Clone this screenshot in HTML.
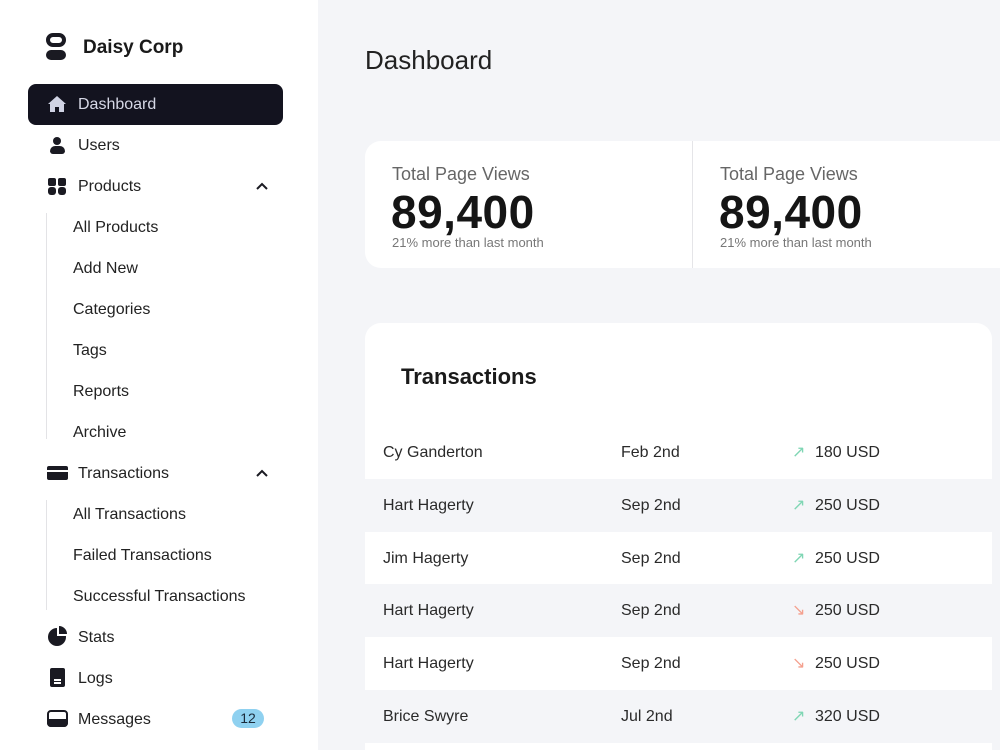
<!DOCTYPE html>
<html><head><meta charset="utf-8"><style>
*{margin:0;padding:0;box-sizing:border-box}
html{width:1000px;height:750px;overflow:hidden}
body{width:1000px;height:750px;overflow:hidden;background:#f4f5f8;font-family:"Liberation Sans",sans-serif;color:#1f2230;position:relative}
.side{position:absolute;left:0;top:0;width:318px;height:750px;background:#fff}
.a{position:absolute;white-space:nowrap}
.it{font-size:16px;color:#222;margin-top:1px}
.ic{position:absolute;background:#1a1a22}
.sub{position:absolute;left:46px;width:1px;background:#e3e3e6}
.row{position:absolute;left:365px;width:635px;height:53px}
.nm,.dt,.am{position:absolute;top:18px;font-size:16px;color:#2a2a2a}
.nm{left:18px}.dt{left:256px}.am{left:450px}
.ar{position:absolute;left:427px;top:16px;font-size:16px}
</style></head><body>
<div class="side">
 <div class="ic" style="left:46px;top:33px;width:20px;height:14px;border-radius:7px;background:#fff;border:4px solid #1a1a22"></div>
 <div class="ic" style="left:46px;top:50px;width:20px;height:10px;border-radius:5px"></div>
 <div class="a" style="left:83px;top:37px;font-size:19px;font-weight:bold;color:#1a1a1a">Daisy Corp</div>
 <div class="a" style="left:28px;top:84px;width:255px;height:41px;background:#13131f;border-radius:8px"></div>
 <svg class="a" style="left:47px;top:95px" width="20" height="18" viewBox="0 0 20 18"><path d="M10 1 L19 9 L17 9 L17 17 L12 17 L12 12 L8 12 L8 17 L3 17 L3 9 L1 9 Z" fill="#d0d3e4"/></svg>
 <div class="a it" style="left:78px;top:95px;color:#d6d8e6">Dashboard</div>
 <div class="ic" style="left:53px;top:137px;width:8px;height:8px;border-radius:50%"></div>
 <div class="ic" style="left:50px;top:146px;width:15px;height:8px;border-radius:7px 7px 4px 4px"></div>
 <div class="a it" style="left:78px;top:136px">Users</div>
 <div class="ic" style="left:48px;top:178px;width:8px;height:8px;border-radius:2px"></div>
 <div class="ic" style="left:58px;top:178px;width:8px;height:8px;border-radius:2px"></div>
 <div class="ic" style="left:48px;top:187px;width:8px;height:8px;border-radius:3px"></div>
 <div class="ic" style="left:58px;top:187px;width:8px;height:8px;border-radius:3px"></div>
 <div class="a it" style="left:78px;top:177px">Products</div>
 <svg class="a" style="left:255px;top:181px" width="14" height="10"><path d="M2 8 L7 3 L12 8" stroke="#1a1a22" stroke-width="2" fill="none"/></svg>
 <div class="sub" style="top:213px;height:226px"></div>
 <div class="a it" style="left:73px;top:218px">All Products</div>
 <div class="a it" style="left:73px;top:259px">Add New</div>
 <div class="a it" style="left:73px;top:300px">Categories</div>
 <div class="a it" style="left:73px;top:341px">Tags</div>
 <div class="a it" style="left:73px;top:382px">Reports</div>
 <div class="a it" style="left:73px;top:423px">Archive</div>
 <div class="ic" style="left:47px;top:466px;width:21px;height:14px;border-radius:2px"></div>
 <div class="a" style="left:47px;top:470px;width:21px;height:2px;background:#fff"></div>
 <div class="a it" style="left:78px;top:464px">Transactions</div>
 <svg class="a" style="left:255px;top:468px" width="14" height="10"><path d="M2 8 L7 3 L12 8" stroke="#1a1a22" stroke-width="2" fill="none"/></svg>
 <div class="sub" style="top:500px;height:110px"></div>
 <div class="a it" style="left:73px;top:505px">All Transactions</div>
 <div class="a it" style="left:73px;top:546px">Failed Transactions</div>
 <div class="a it" style="left:73px;top:587px">Successful Transactions</div>
 <div class="ic" style="left:48px;top:628px;width:18px;height:18px;border-radius:50%"></div>
 <div class="a" style="left:57px;top:626px;width:10px;height:10px;background:#fff"></div>
 <div class="ic" style="left:59px;top:626px;width:8px;height:8px;border-radius:0 8px 0 0"></div>
 <div class="a it" style="left:78px;top:628px">Stats</div>
 <div class="ic" style="left:50px;top:668px;width:15px;height:19px;border-radius:2px"></div>
 <div class="a" style="left:54px;top:679px;width:7px;height:1.5px;background:#fff"></div>
 <div class="a" style="left:54px;top:682px;width:7px;height:1.5px;background:#fff"></div>
 <div class="a it" style="left:78px;top:669px">Logs</div>
 <div class="a" style="left:47px;top:710px;width:21px;height:17px;border:2.5px solid #1a1a22;border-radius:4px"></div>
 <div class="ic" style="left:47px;top:719px;width:21px;height:8px;border-radius:0 0 4px 4px"></div>
 <div class="a it" style="left:78px;top:710px">Messages</div>
 <div class="a" style="left:232px;top:709px;width:32px;height:19px;background:#8fd1f0;border-radius:10px;font-size:14px;text-align:center;line-height:19px;color:#1a2a3a">12</div>
</div>
<div class="a" style="left:365px;top:45px;font-size:26px;color:#222">Dashboard</div>
<div class="a" style="left:365px;top:141px;width:700px;height:127px;background:#fff;border-radius:16px"></div>
<div class="a" style="left:692px;top:141px;width:1px;height:127px;background:#e5e5e8"></div>
<div class="a" style="left:392px;top:164px;font-size:18px;color:#666">Total Page Views</div>
<div class="a" style="left:391px;top:185px;font-size:46px;font-weight:bold;color:#151515;letter-spacing:0.5px">89,400</div>
<div class="a" style="left:392px;top:235px;font-size:13px;color:#777">21% more than last month</div>
<div class="a" style="left:720px;top:164px;font-size:18px;color:#666">Total Page Views</div>
<div class="a" style="left:719px;top:185px;font-size:46px;font-weight:bold;color:#151515;letter-spacing:0.5px">89,400</div>
<div class="a" style="left:720px;top:235px;font-size:13px;color:#777">21% more than last month</div>
<div class="a" style="left:365px;top:323px;width:627px;height:427px;background:#fff;border-radius:16px 16px 0 0"></div>
<div class="a" style="left:401px;top:364px;font-size:22px;font-weight:bold;color:#1a1a1a">Transactions</div>
<div class="row" style="top:426px"><span class="nm">Cy Ganderton</span><span class="dt">Feb 2nd</span><span class="ar" style="color:#7fd6b4">&#8599;</span><span class="am">180 USD</span></div>
<div class="row" style="top:479px;background:#f4f5f8"><span class="nm">Hart Hagerty</span><span class="dt">Sep 2nd</span><span class="ar" style="color:#7fd6b4">&#8599;</span><span class="am">250 USD</span></div>
<div class="row" style="top:532px;width:627px"><span class="nm">Jim Hagerty</span><span class="dt">Sep 2nd</span><span class="ar" style="color:#7fd6b4">&#8599;</span><span class="am">250 USD</span></div>
<div class="row" style="top:584px;background:#f4f5f8"><span class="nm">Hart Hagerty</span><span class="dt">Sep 2nd</span><span class="ar" style="color:#f4a08e">&#8600;</span><span class="am">250 USD</span></div>
<div class="row" style="top:637px;width:627px"><span class="nm">Hart Hagerty</span><span class="dt">Sep 2nd</span><span class="ar" style="color:#f4a08e">&#8600;</span><span class="am">250 USD</span></div>
<div class="row" style="top:690px;background:#f4f5f8"><span class="nm">Brice Swyre</span><span class="dt">Jul 2nd</span><span class="ar" style="color:#7fd6b4">&#8599;</span><span class="am">320 USD</span></div>
</body></html>
